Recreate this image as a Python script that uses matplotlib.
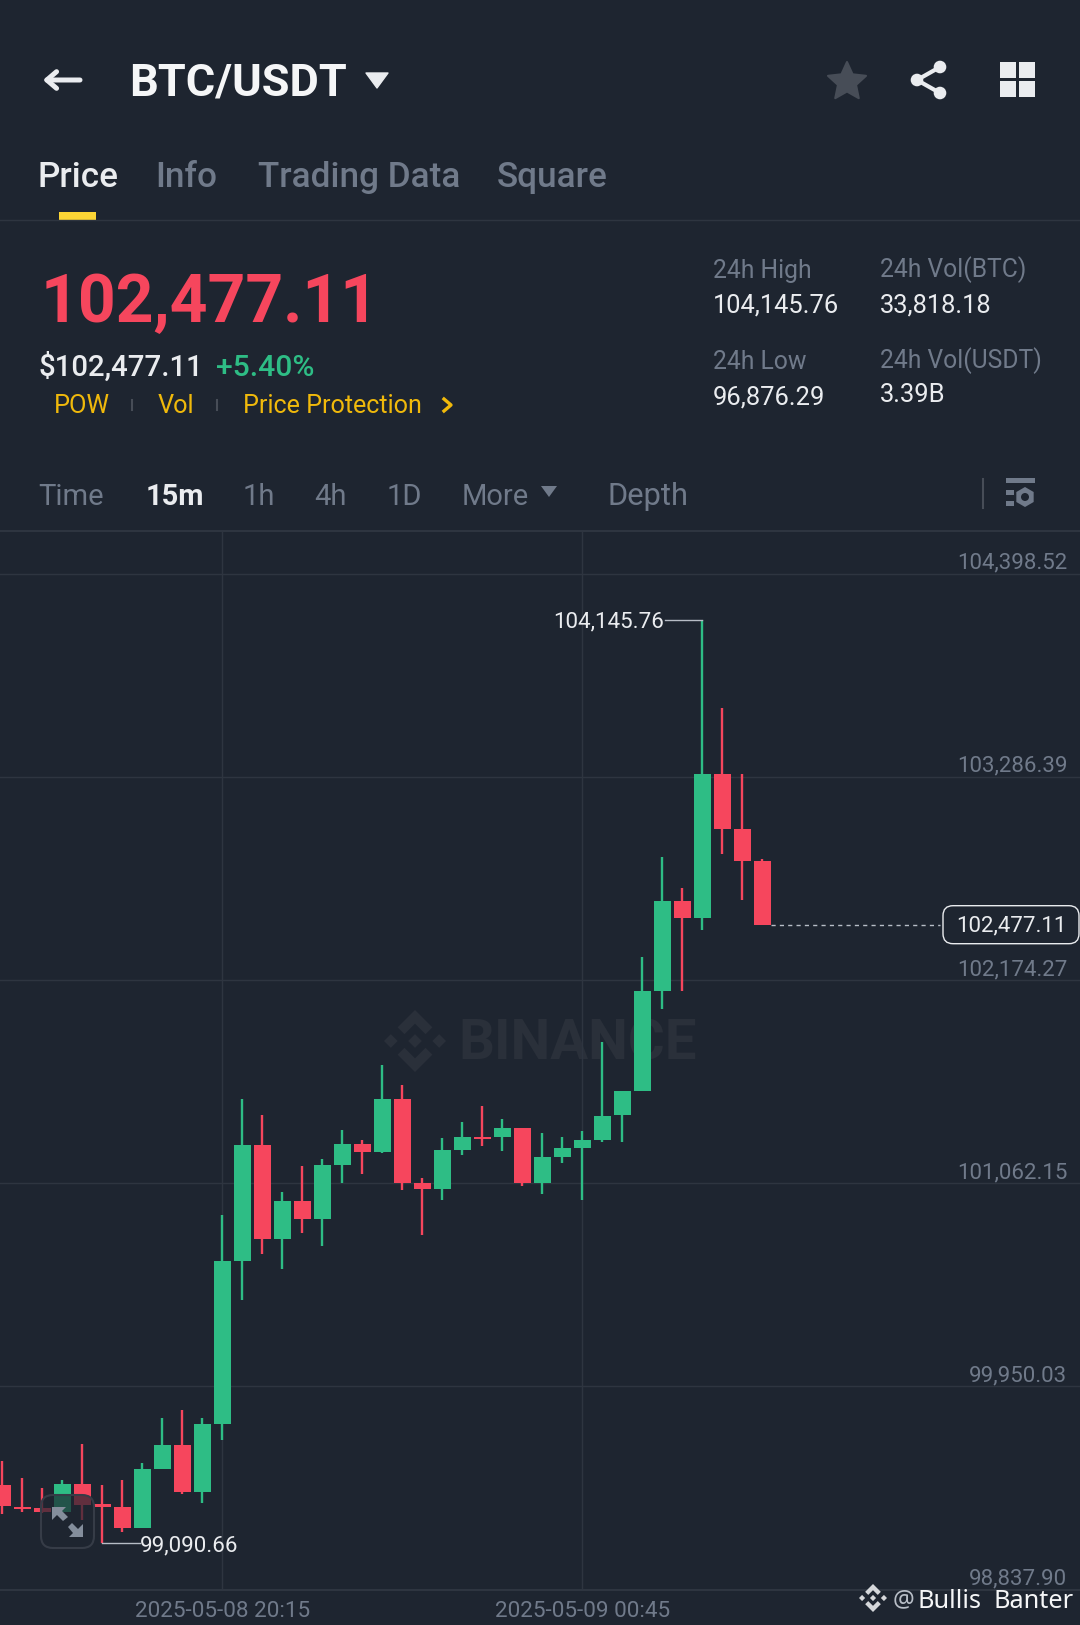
import numpy as np
import matplotlib
matplotlib.use('Agg')
import matplotlib.pyplot as plt
from matplotlib.patches import Polygon, Rectangle, Circle, FancyBboxPatch

plt.rcParams['font.family'] = ['Roboto', 'DejaVu Sans']

# candles (15m)
opens = [99408, 99290, 99286, 99260, 99417, 99305, 99288, 99172, 99498, 99627, 99369, 99745, 100634,
         101270, 100758, 100964, 100865, 101163, 101276, 101235, 101525, 101062, 101029, 101246, 101314,
         101316, 101364, 101064, 101205, 101257, 101300, 101434, 101566, 102115, 102605, 102512, 103300,
         103000, 102828]
closes = [99294, 99277, 99260, 99417, 99299, 99290, 99172, 99498, 99627, 99369, 99745, 100634, 101270,
          100758, 100964, 100865, 101163, 101278, 101235, 101525, 101064, 101029, 101246, 101316, 101302,
          101364, 101064, 101203, 101255, 101296, 101432, 101566, 102115, 102605, 102512, 103300, 103000,
          102828, 102477.11]
highs = [99544, 99450, 99395, 99437, 99633, 99410, 99439, 99533, 99777, 99821, 99775, 100887, 101525,
         101433, 101014, 101154, 101193, 101355, 101298, 101707, 101597, 101093, 101307, 101398, 101482,
         101411, 101364, 101339, 101314, 101346, 101834, 101566, 102299, 102848, 102680, 104145.76, 103663,
         103300, 102839]
lows = [99249, 99260, 99258, 99255, 99216, 99090.66, 99150, 99172, 99498, 99360, 99314, 99657, 100424,
        100677, 100594, 100791, 100719, 101062, 101110, 101230, 101023, 100778, 100970, 101215, 101266,
        101241, 101048, 101003, 101173, 100969, 101287, 101289, 101566, 102017, 102115, 102449, 102866,
        102614, 102477.11]
price_ticks = [104398.52, 103286.39, 102174.27, 101062.15, 99950.03, 98837.90]
time_pos = [11, 29]
time_labels = ['2025-05-08 20:15', '2025-05-09 00:45']
tabs = ['Price', 'Info', 'Trading Data', 'Square']
tab_x = [38, 155, 258, 497]
intervals = ['Time', '15m', '1h', '4h', '1D', 'More', 'Depth']
interval_x = [38, 146, 243, 314, 387, 462, 607]
last_price = closes[-1]

BG = '#1E2530'
GRID = '#2E3540'
GREEN = '#2EBD85'
RED = '#F6465D'
GOLD = '#F0B90B'
WHITE = '#EAECEF'
GRAY = '#707A8A'

W, H = 1080, 1625
fig = plt.figure(figsize=(W / 100, H / 100), dpi=100, facecolor=BG)


def px_axes(z):
    a = fig.add_axes([0, 0, 1, 1], zorder=z)
    a.set_xlim(0, W)
    a.set_ylim(H, 0)
    a.axis('off')
    return a


ui = px_axes(0)
top = px_axes(3)


def label(x, y, s, size, color, weight='normal', ha='left', a=ui):
    return a.text(x, y, s, fontsize=size, color=color, fontweight=weight, ha=ha, va='baseline')


def binance_logo(a, cx, cy, r, color):
    # five pieces of the logo, in units of r
    pieces = [
        [(0, -.22), (.22, 0), (0, .22), (-.22, 0)],
        [(-1, 0), (-.78, -.22), (-.56, 0), (-.78, .22)],
        [(1, 0), (.78, -.22), (.56, 0), (.78, .22)],
        [(0, -1), (.56, -.44), (.34, -.22), (0, -.56), (-.34, -.22), (-.56, -.44)],
        [(0, 1), (.56, .44), (.34, .22), (0, .56), (-.34, .22), (-.56, .44)],
    ]
    for p in pieces:
        a.add_patch(Polygon([(cx + r * u, cy + r * v) for u, v in p], fc=color, ec='none'))


# header
ui.annotate('', xy=(43, 80), xytext=(80, 80),
            arrowprops=dict(arrowstyle='->,head_length=0.7,head_width=0.6', color=WHITE, lw=3.6, shrinkA=0, shrinkB=0))
label(129, 96, 'BTC/USDT', 32.5, '#F5F6F7', 'bold')
ui.add_patch(Polygon([(366, 73), (388, 73), (377, 88)], fc=WHITE, ec=WHITE, lw=1, joinstyle='round'))

ang = np.pi / 2 + np.arange(10) * np.pi / 5
rad = np.where(np.arange(10) % 2 == 0, 20, 9.5)
ui.add_patch(Polygon(np.c_[847 + rad * np.cos(ang), 82 - rad * np.sin(ang)], fc='#474D57', ec='#474D57', lw=1.5, joinstyle='round'))

for cx, cy in [(917, 80), (940, 67), (940, 93)]:
    ui.add_patch(Circle((cx, cy), 6.3, fc=WHITE, ec='none'))
ui.plot([917, 940], [80, 67], color=WHITE, lw=3)
ui.plot([917, 940], [80, 93], color=WHITE, lw=3)
for x0, y0 in [(1000, 62), (1019, 62), (1000, 81), (1019, 81)]:
    ui.add_patch(Rectangle((x0, y0), 15.5, 15.5, fc=WHITE, ec='none'))

# tabs
for i, (s, x) in enumerate(zip(tabs, tab_x)):
    label(x, 187, s, 25.3, WHITE if i == 0 else GRAY, 'medium')
ui.add_patch(Rectangle((59, 212), 37, 8, fc='#FCD535', ec='none'))
ui.plot([0, W], [220, 220], color=GRID, lw=1)

# price block
label(41, 322, '102,477.11', 47.5, RED, 'bold')
label(38, 376, '$102,477.11', 21.2, WHITE, 'medium')
label(216, 376, '+5.40%', 21.6, GREEN, 'medium')
label(54, 413, 'POW', 18.3, GOLD)
label(158, 413, 'Vol', 18.3, GOLD)
label(243, 413, 'Price Protection', 18.1, GOLD)
ui.plot([132, 132], [400, 410], color='#474D57', lw=1.5)
ui.plot([217, 217], [400, 410], color='#474D57', lw=1.5)
ui.plot([444, 451, 444], [399, 405, 411], color=GOLD, lw=2.4)

# 24h stats
label(713, 278, '24h High', 17.8, GRAY)
label(713, 313, '104,145.76', 18.4, WHITE)
label(713, 369, '24h Low', 17.8, GRAY)
label(713, 404, '96,876.29', 18.4, WHITE)
label(880, 277, '24h Vol(BTC)', 17.7, GRAY)
label(880, 312, '33,818.18', 18.4, WHITE)
label(880, 368, '24h Vol(USDT)', 17.7, GRAY)
label(880, 402, '3.39B', 18.4, WHITE)

# interval row
for s, x in zip(intervals, interval_x):
    if s == '15m':
        label(x, 505, s, 21, WHITE, 'bold')
    elif s == 'Depth':
        label(x, 505, s, 22.2, GRAY)
    else:
        label(x, 505, s, 21, GRAY)
ui.add_patch(Polygon([(541, 486), (557, 486), (549, 497)], fc=GRAY, ec='none'))
ui.plot([983, 983], [479, 508], color='#474D57', lw=1.5)
ui.add_patch(Rectangle((1006, 478), 29, 5, fc=GRAY, ec='none'))
ui.add_patch(Rectangle((1006, 490), 8, 5, fc=GRAY, ec='none'))
ui.add_patch(Rectangle((1006, 501), 8, 5, fc=GRAY, ec='none'))
hexa = np.arange(6) * np.pi / 3 + np.pi / 6
ui.add_patch(Polygon(np.c_[1025 + 10 * np.cos(hexa), 497 + 10 * np.sin(hexa)], fc=GRAY, ec='none'))
ui.add_patch(Circle((1025, 497), 4, fc=BG, ec='none'))
ui.plot([0, W], [531, 531], color=GRID, lw=1.5)

# watermark under the candles
binance_logo(ui, 415, 1041, 31, '#2A303A')
ui.text(458, 1060, 'BINANCE', fontsize=40.5, fontweight='bold', color='#2A303A', ha='left', va='baseline')

# chart
ax = fig.add_axes([0, (H - 1589.5) / H, 1, (1589.5 - 531.5) / H], zorder=1)
ax.patch.set_alpha(0)
ax.set_xlim(-0.12, 53.88)
ax.set_ylim(98837.90, 104629.5)
for sp in ax.spines.values():
    sp.set_visible(False)
ax.spines['bottom'].set_visible(True)
ax.spines['bottom'].set_color(GRID)
ax.spines['bottom'].set_linewidth(1.5)
ax.set_yticks(price_ticks)
ax.set_yticklabels([])
ax.set_xticks(time_pos)
ax.set_xticklabels(time_labels, fontsize=16.2, color=GRAY)
ax.tick_params(length=0)
ax.tick_params(axis='x', pad=8.5)
ax.grid(True, color=GRID, lw=1)
ax.set_axisbelow(True)

idx = np.arange(len(opens))
o = np.array(opens, dtype=float)
c = np.array(closes, dtype=float)
colors = [GREEN if b >= a else RED for a, b in zip(o, c)]
ax.vlines(idx, lows, highs, colors=colors, lw=1.7, zorder=2)
ax.bar(idx, np.abs(c - o), bottom=np.minimum(o, c), width=0.87, color=colors, zorder=3)

# price scale labels sit on top of the grid lines
for i, p in enumerate(price_ticks):
    ax.annotate(f'{p:,.2f}', (1, p), xycoords=('axes fraction', 'data'), xytext=(-9, 3.6),
                textcoords='offset points', ha='right', va='baseline', fontsize=16, color=GRAY)

# high / low callouts
imax = int(np.argmax(highs))
imin = int(np.argmin(lows))
ax.plot([imax - 1.85, imax], [highs[imax]] * 2, color='#B7BDC6', lw=1, zorder=2)
ax.annotate(f'{highs[imax]:,.2f}', (imax - 1.85, highs[imax]), xytext=(-1, -1.5), textcoords='offset points',
            ha='right', va='center', fontsize=16.1, color=WHITE)
ax.plot([imin, imin + 1.87], [lows[imin]] * 2, color='#B7BDC6', lw=1, zorder=2)
ax.annotate(f'{lows[imin]:,.2f}', (imin + 1.87, lows[imin]), xytext=(0, -2), textcoords='offset points',
            ha='left', va='center', fontsize=16.1, color=WHITE)

# last price line and box
box_y = H - ax.transData.transform((0, last_price))[1]
ax.plot([len(opens) - 0.55, 46.9], [last_price] * 2, color='#B7BDC6', lw=1, dashes=(3, 3), zorder=2)
top.add_patch(FancyBboxPatch((943 + 10, box_y - 19 + 10), 136 - 20, 38 - 20, boxstyle='round,pad=10,rounding_size=10',
                             fc=BG, ec=WHITE, lw=1))
top.text(1011, box_y + 1, f'{last_price:,.2f}', fontsize=16, color=WHITE, ha='center', va='center')

# expand button over the chart
top.add_patch(FancyBboxPatch((41 + 8, 1495 + 8), 53 - 16, 53 - 16, boxstyle='round,pad=8,rounding_size=12',
                             fc=BG + 'B0', ec='#363C47', lw=1.5))
top.add_patch(Polygon([(52, 1507), (66, 1507), (62, 1511), (68, 1517), (63, 1521), (57, 1515), (52, 1520)], fc='#848E9C', ec='none'))
top.add_patch(Polygon([(83, 1537), (69, 1537), (73, 1533), (68, 1527), (72, 1523), (78, 1529), (83, 1524)], fc='#848E9C', ec='none'))

# footer credit
binance_logo(top, 873, 1598, 14, '#D5D7DA')
top.text(893, 1606, '@', fontsize=17.5, color='#B7BDC6', ha='left', va='baseline', family='Noto Sans')
top.text(917, 1608, 'Bullis', fontsize=18.2, color='#F5F6F7', ha='left', va='baseline', family='Noto Sans')
top.text(994, 1608, 'Banter', fontsize=18.2, color='#F5F6F7', ha='left', va='baseline', family='Noto Sans')

fig.savefig('out.png', dpi=100, facecolor=BG)
